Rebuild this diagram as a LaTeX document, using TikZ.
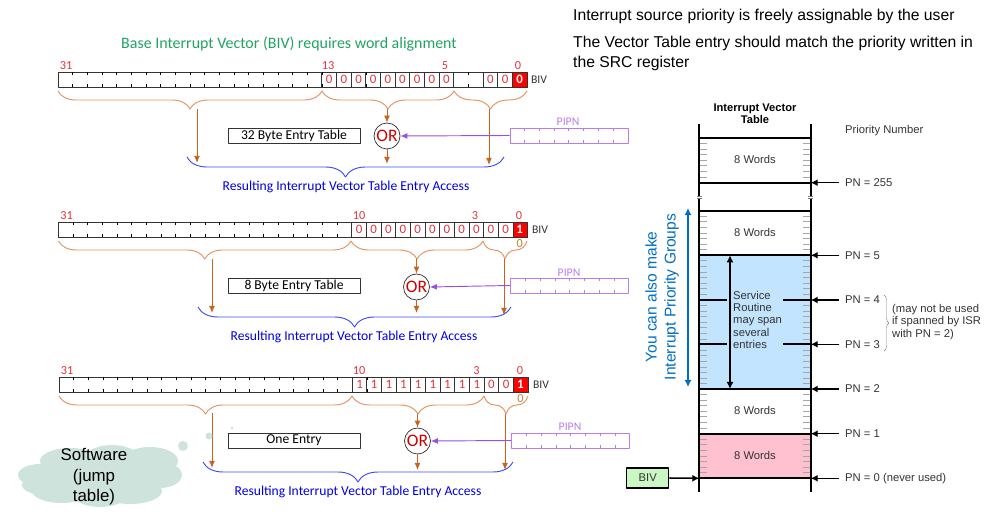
\documentclass[tikz,border=0pt]{standalone}
\usepackage{fontspec}
\setmainfont{Liberation Sans}
\newfontfamily\calfont{Carlito}
\usetikzlibrary{arrows.meta,decorations.pathreplacing}
\definecolor{numred}{HTML}{E0343C}
\definecolor{titlegreen}{HTML}{1FA463}
\definecolor{braceorange}{HTML}{E2935F}
\definecolor{arroworange}{HTML}{C8641E}
\definecolor{bluebrace}{HTML}{3F4CF0}
\definecolor{pipnpurple}{HTML}{B77DEB}
\definecolor{arrowpurple}{HTML}{9A4FE0}
\definecolor{isrblue}{HTML}{C2E4FF}
\definecolor{entrypink}{HTML}{FFC0D0}
\definecolor{bivgreen}{HTML}{CBF7C4}
\definecolor{cloudgreen}{HTML}{CDE3DB}
\definecolor{groupblue}{HTML}{0070C0}
\definecolor{graytext}{HTML}{333333}
\tikzset{
  bitnum/.style={font=\calfont\fontsize{10.5}{11}\selectfont,text=numred,inner sep=0},
  bitzero/.style={font=\calfont\fontsize{11}{11}\selectfont,text=numred,inner sep=0},
  bitgray/.style={font=\calfont\fontsize{10}{11}\selectfont,text=graytext,inner sep=0},
  smallzero/.style={font=\calfont\fontsize{10.5}{11}\selectfont,text=brown,inner sep=0},
  tablebox/.style={draw=graytext,line width=.8pt,minimum width=3.96cm,minimum height=.45cm,inner sep=0,font=\calfont\fontsize{11.6}{12}\selectfont,text=black},
  orgate/.style={circle,draw=graytext,line width=.6pt,minimum size=.78cm,inner sep=0,font=\calfont\fontsize{15}{15}\selectfont,text=red!80!black},
  pipnbox/.style={draw=pipnpurple,line width=.8pt,minimum width=3.54cm,minimum height=.45cm,inner sep=0},
  pipnlabel/.style={font=\calfont\fontsize{10}{11}\selectfont,text=pipnpurple,inner sep=0},
  resultlabel/.style={font=\calfont\fontsize{11.6}{12}\selectfont,text=blue!85!black,inner sep=0},
  orangebrace/.style={draw=braceorange,line width=.8pt,decorate,decoration={brace,amplitude=.54cm}},
  resultbrace/.style={draw=bluebrace,line width=.8pt,decorate,decoration={brace,amplitude=.6cm}},
  orangearrow/.style={draw=arroworange,line width=.8pt,-{Latex[length=6pt,width=5pt]}},
  purplearrow/.style={draw=arrowpurple,line width=.8pt,-{Latex[length=6pt,width=5pt]}},
  tableline/.style={line width=1.4pt,draw=black},
  pnarrow/.style={line width=1.3pt,draw=black,-{Latex[length=6pt,width=6pt]}},
  pnlabel/.style={anchor=west,inner sep=0,font=\fontsize{9.6}{10.5}\selectfont,text=graytext},
  wordslabel/.style={inner sep=0,font=\fontsize{9.6}{10.5}\selectfont,text=graytext},
  toptext/.style={anchor=west,inner sep=0,align=left,font=\fontsize{13.4}{17}\selectfont,text=black}
}
% register: name, left, top, cell positions with a full divider
\newcommand{\bitreg}[4]{
  \draw[draw=graytext,line width=.8pt] (#2,#3) rectangle (#2+469,#3+15);
  \foreach \k in {1,...,31} {
    \draw[line width=.6pt] (#2+14.66*\k,#3) -- (#2+14.66*\k,#3+3);
    \draw[line width=.6pt] (#2+14.66*\k,#3+15) -- (#2+14.66*\k,#3+12);
  }
  \foreach \k in {#4}
    \draw[draw=graytext,line width=.7pt] (#2+14.66*\k,#3) -- (#2+14.66*\k,#3+15);
  \draw[fill=red,draw=graytext,line width=.7pt] (#2+14.66*31,#3) rectangle (#2+469,#3+15);
}
\newcommand{\bitdigits}[5]{
  \foreach \k in {#5}
    \node[bitzero] (#1d\k) at (#2+14.66*\k+7.33,#3+7.5) {#4};
}
\newcommand{\pipnticks}[3]{
  \foreach \k in {1,...,7} {
    \draw[draw=pipnpurple,line width=.6pt] (#1+14.7*\k,#2) -- (#1+14.7*\k,#2+3);
    \draw[draw=pipnpurple,line width=.6pt] (#1+14.7*\k,#3) -- (#1+14.7*\k,#3-3);
  }
}
\begin{document}
\begin{tikzpicture}[line cap=butt,line join=round,x=0.03cm,y=-0.03cm]
\useasboundingbox (0,0) rectangle (999,517);
% top texts
\node[toptext] (topa) at (573,16) {Interrupt source priority is freely assignable by the user};
\node[toptext] (topb) at (573,53) {The Vector Table entry should match the priority written in\\the SRC register};
\node[inner sep=0,font=\calfont\fontsize{13.6}{14}\selectfont,text=titlegreen] (biztitle) at (289,44) {Base Interrupt Vector (BIV) requires word alignment};
% first register
\bitreg{a}{58}{72}{18,...,27,29,30}
\bitdigits{a}{58}{72}{0}{18,...,26,29,30}
\node[bitzero,text=white,font=\calfont\bfseries\fontsize{11}{11}\selectfont] (ared) at (519.7,79.5) {0};
\node[bitnum] (a31) at (66,66) {31};
\node[bitnum] (a13) at (328,66) {13};
\node[bitnum] (a5) at (445,66) {5};
\node[bitnum] (a0) at (518,66) {0};
\node[bitgray] (abiv) at (539,80) {BIV};
\coordinate (ab0) at (58,91);
\coordinate (ab1) at (322,91);
\coordinate (ab2) at (454,91);
\coordinate (ab3) at (527,91);
\draw[orangebrace] (ab1) -- (ab0);
\draw[orangebrace] (ab2) -- (ab1);
\draw[orangebrace] (ab3) -- (ab2);
\node[tablebox] (atable) at (294,135.5) {32 Byte Entry Table};
\node[orgate] (aor) at (387,136) {OR};
\node[pipnbox] (apipn) at (569,135.5) {};
\pipnticks{510}{128}{143}
\node[pipnlabel] (apipnl) at (568,122) {PIPN};
\coordinate (at1) at (197,109);
\coordinate (ae1) at (197,163);
\coordinate (at2) at (387,109);
\coordinate (ae2) at (387,164);
\coordinate (at3) at (489,109);
\coordinate (ae3) at (489,165);
\draw[orangearrow] (at1) -- (ae1);
\draw[orangearrow] (at2) -- (aor);
\draw[orangearrow] (aor) -- (ae2);
\draw[orangearrow] (at3) -- (ae3);
\draw[purplearrow] (apipn.west) -- (aor.east);
\coordinate (ar0) at (187,157);
\coordinate (ar1) at (504,157);
\draw[resultbrace] (ar1) -- (ar0);
\node[resultlabel] (aresult) at (346,187) {Resulting Interrupt Vector Table Entry Access};
% second register
\bitreg{b}{58.5}{222}{20,...,30}
\bitdigits{b}{58.5}{222}{0}{20,...,30}
\node[bitzero,text=white,font=\calfont\bfseries\fontsize{11}{11}\selectfont] (bred) at (519.7,229.5) {1};
\node[bitnum] (b31) at (66.5,216) {31};
\node[bitnum] (b10) at (359,216) {10};
\node[bitnum] (b3) at (475,216) {3};
\node[bitnum] (b0) at (519,216) {0};
\node[bitgray] (bbiv) at (540,230) {BIV};
\node[smallzero] (bzero) at (519.7,243.5) {0};
\coordinate (bb0) at (58.5,241);
\coordinate (bb1) at (351,241);
\coordinate (bb2) at (483,241);
\coordinate (bb3) at (527,241);
\draw[orangebrace] (bb1) -- (bb0);
\draw[orangebrace] (bb2) -- (bb1);
\draw[orangebrace] (bb3) -- (bb2);
\node[tablebox] (btable) at (294,285.5) {8 Byte Entry Table};
\node[orgate] (bor) at (416.5,287) {OR};
\node[pipnbox] (bpipn) at (569.5,285.5) {};
\pipnticks{511}{278}{293}
\node[pipnlabel] (bpipnl) at (569,273) {PIPN};
\coordinate (bt1) at (212,259);
\coordinate (be1) at (212,313);
\coordinate (bt2) at (416.5,259);
\coordinate (be2) at (416.5,313);
\coordinate (bt3) at (504,259);
\coordinate (be3) at (504,315);
\draw[orangearrow] (bt1) -- (be1);
\draw[orangearrow] (bt2) -- (bor);
\draw[orangearrow] (bor) -- (be2);
\draw[orangearrow] (bt3) -- (be3);
\draw[purplearrow] (bpipn.west) -- (bor.east);
\coordinate (br0) at (198,307);
\coordinate (br1) at (511,307);
\draw[resultbrace] (br1) -- (br0);
\node[resultlabel] (bresult) at (354,337) {Resulting Interrupt Vector Table Entry Access};
% third register
\bitreg{c}{59}{377}{20,...,30}
\bitdigits{c}{59}{377}{1}{20,...,28}
\bitdigits{c}{59}{377}{0}{29,30}
\node[bitzero,text=white,font=\calfont\bfseries\fontsize{11}{11}\selectfont] (cred) at (520.3,384.5) {1};
\node[bitnum] (c31) at (67,371) {31};
\node[bitnum] (c10) at (359,371) {10};
\node[bitnum] (c3) at (476.5,371) {3};
\node[bitnum] (c0) at (520,371) {0};
\node[bitgray] (cbiv) at (541,384.5) {BIV};
\node[smallzero] (czero) at (520.5,399) {0};
\coordinate (cb0) at (59,396);
\coordinate (cb1) at (352,396);
\coordinate (cb2) at (484,396);
\coordinate (cb3) at (528,396);
\draw[orangebrace] (cb1) -- (cb0);
\draw[orangebrace] (cb2) -- (cb1);
\draw[orangebrace] (cb3) -- (cb2);
\node[tablebox] (ctable) at (294,440.5) {One Entry};
\node[orgate] (cor) at (417.5,441) {OR};
\node[pipnbox] (cpipn) at (570.5,440.5) {};
\pipnticks{512}{433}{448}
\node[pipnlabel] (cpipnl) at (570,427) {PIPN};
\coordinate (ct1) at (212,413);
\coordinate (ce1) at (212,468);
\coordinate (ct2) at (417.5,414);
\coordinate (ce2) at (417.5,470);
\coordinate (ct3) at (505,414);
\coordinate (ce3) at (505,470);
\draw[orangearrow] (ct1) -- (ce1);
\draw[orangearrow] (ct2) -- (cor);
\draw[orangearrow] (cor) -- (ce2);
\draw[orangearrow] (ct3) -- (ce3);
\draw[purplearrow] (cpipn.west) -- (cor.east);
\coordinate (cr0) at (203,462);
\coordinate (cr1) at (513,462);
\draw[resultbrace] (cr1) -- (cr0);
\node[resultlabel] (cresult) at (358,492) {Resulting Interrupt Vector Table Entry Access};
% cloud
\foreach \cx/\cy/\rx/\ry in {40/475/22/11,45/485/23/10,70/461/30/13,112/462/30/17,150/461/28/14,160/475/22/13,130/491/32/13,100/493/28/14,62/491/30/12,100/476/65/22}
  \fill[cloudgreen] (\cx,\cy) ellipse [x radius=\rx,y radius=\ry];
\node[inner sep=0,align=center,font=\fontsize{14.4}{17.5}\selectfont] (softtext) at (94,477) {Software\\(jump\\table)};
\fill[cloudgreen] (183,446) circle (5);
\fill[cloudgreen] (209,436) circle (3.5);
\fill[cloudgreen] (232,428) circle (1.5);
% vector table
\fill[isrblue] (699.5,255.3) rectangle (810.5,389);
\fill[entrypink] (699.5,433.7) rectangle (810.5,478.3);
\foreach \ys in {138,210.7,255.3,300,344.6,389,433.7} {
  \foreach \k in {1,...,7} {
    \draw[draw=gray!70,line width=.7pt] (699,\ys+5.58*\k) -- (707,\ys+5.58*\k);
    \draw[draw=gray!70,line width=.7pt] (803,\ys+5.58*\k) -- (811,\ys+5.58*\k);
  }
}
\draw[tableline] (699.3,124) -- (699.3,196);
\draw[tableline] (699.3,198) -- (699.3,492);
\draw[tableline] (810.7,124) -- (810.7,196);
\draw[tableline] (810.7,198) -- (810.7,492);
\foreach \xs in {699.3,810.7} {
  \draw[draw=gray,line width=.6pt] (\xs-2.5,196) -- (\xs+2.5,196);
  \draw[draw=gray,line width=.6pt] (\xs-2.5,198) -- (\xs+2.5,198);
}
\foreach \ys in {138,182.7,210.7,255.3,389,433.7,478.3}
  \draw[tableline] (699.3,\ys) -- (810.7,\ys);
\foreach \ys in {300,344.3} {
  \draw[tableline] (699.3,\ys) -- (726.7,\ys);
  \draw[tableline] (783,\ys) -- (810.7,\ys);
}
\node[inner sep=0,align=center,font=\bfseries\fontsize{9.5}{10.4}\selectfont] (vectitle) at (755,114) {Interrupt Vector\\Table};
\node[pnlabel] (prionum) at (845,130.7) {Priority Number};
\node[wordslabel] (wa) at (755,159.3) {8 Words};
\node[wordslabel] (wb) at (755,232.3) {8 Words};
\node[wordslabel] (wc) at (755,410.7) {8 Words};
\node[wordslabel] (wd) at (755,455.3) {8 Words};
\node[anchor=north west,inner sep=0,align=left,font=\fontsize{9.6}{10.5}\selectfont,text=graytext] (isrtext) at (733,291) {Service\\Routine\\may span\\several\\entries};
\foreach \nm/\ys/\txt in {p255/182.7/PN = 255,p5/255.3/PN = 5,p4/300/PN = 4,p3/344.3/PN = 3,p2/389/PN = 2,p1/433.7/PN = 1,p0/478.3/PN = 0 (never used)} {
  \node[pnlabel] (\nm) at (845,\ys) {\txt};
  \coordinate (\nm e) at (810.7,\ys);
  \coordinate (\nm s) at (839,\ys);
  \draw[pnarrow] (\nm s) -- (\nm e);
}
\coordinate (spant) at (730,255.3);
\coordinate (spanb) at (730,389);
\draw[tableline,{Latex[length=6pt,width=6pt]}-{Latex[length=6pt,width=6pt]}] (spant) -- (spanb);
\coordinate (gpt) at (688,208);
\coordinate (gpb) at (688,387);
\draw[draw=groupblue,line width=1.1pt,{Latex[length=6pt,width=6pt]}-{Latex[length=6pt,width=6pt]}] (gpt) -- (gpb);
\node[rotate=90,inner sep=0,align=center,text=groupblue,font=\fontsize{13.3}{16.2}\selectfont] (gptext) at (662,297) {You can also make\\Interrupt Priority Groups};
\coordinate (spa) at (884,295);
\coordinate (spb) at (884,351);
\draw[draw=gray,line width=.4pt,decorate,decoration={brace,amplitude=.15cm}] (spa) -- (spb);
\node[anchor=west,inner sep=0,align=left,font=\fontsize{9.6}{10.5}\selectfont,text=graytext] (spantext) at (892,322) {(may not be used\\if spanned by ISR\\with PN = 2)};
\node[draw=black,fill=bivgreen,line width=1.1pt,minimum width=1.26cm,minimum height=.6cm,inner sep=0,font=\fontsize{9.6}{10.5}\selectfont,text=graytext] (bivbox) at (647.7,478) {BIV};
\coordinate (bivin) at (699.3,478.3);
\draw[pnarrow] (bivbox.east) -- (bivin);
\end{tikzpicture}
\end{document}
